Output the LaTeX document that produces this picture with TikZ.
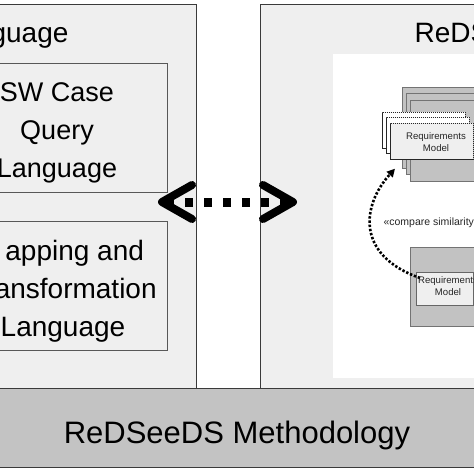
\documentclass[tikz,border=0pt]{standalone}
\usepackage{fontspec}
\setmainfont{Liberation Sans}
\usetikzlibrary{shapes, arrows, arrows.meta}
\definecolor{panelGray}{HTML}{EFEFEF}
\definecolor{barGray}{HTML}{C3C3C3}
\definecolor{modelGray}{HTML}{C2C2C2}
\definecolor{edgeGray}{HTML}{3A3A3A}
\tikzstyle{panel} = [rectangle, draw=edgeGray, line width=1.3pt, fill=panelGray, anchor=north west,
inner sep=0pt]
\tikzstyle{langBox} = [rectangle, draw=edgeGray!85, line width=1pt, fill=panelGray, anchor=north west,
minimum height=129pt, inner sep=0pt]
\tikzstyle{bigText} = [font=\fontsize{27}{38}\selectfont, align=center, text centered]
\tikzstyle{layer} = [rectangle, draw=black!55, line width=0.8pt, fill=modelGray, anchor=north west,
minimum width=100pt, minimum height=81pt, inner sep=0pt]
\tikzstyle{modelCopy} = [rectangle, draw=black!85, dash pattern=on 1.2pt off 0.8pt, line width=0.7pt,
fill=white, anchor=north west, minimum width=83pt, minimum height=36pt, inner sep=0pt]
\tikzstyle{small} = [font=\fontsize{9.6}{12.5}\selectfont, align=center, text=black!85]
\tikzstyle{bigLink} = [line width=9pt, dash pattern=on 8pt off 11pt,
{Straight Barb[length=30pt, width=34pt, line width=8pt, round]}-{Straight Barb[length=30pt, width=34pt, line width=8pt, round]}]
\tikzstyle{simArrow} = [line width=2.6pt, dash pattern=on 2.4pt off 1.8pt, -{Triangle[length=8pt, width=8pt]}]

\begin{document}
\begin{tikzpicture}[x=1pt, y=-1pt]
    \useasboundingbox (0,0) rectangle (474,474);
    \clip (0,0) rectangle (474,474);
    \fill[white] (0,0) rectangle (474,474);

    \node (langPanel) [panel, minimum width=216pt, minimum height=384pt] at (-20,4) {};
    \node (toolPanel) [panel, minimum width=240pt, minimum height=384pt] at (260,4) {};
    \node (langTitle) [font=\fontsize{28}{34}\selectfont, anchor=base east] at (72,42) {guage};
    \node (toolTitle) [font=\fontsize{28}{34}\selectfont, anchor=base west] at (411,42) {ReDS};
    \node (queryBox) [langBox, minimum width=220pt] at (-53,63) {};
    \node (queryText) [bigText] at (57,133) {SW Case\\Query\\Language};
    \node (mapBox) [langBox, minimum width=210pt] at (-43,221) {};
    \node (mapText) [bigText, font=\fontsize{28}{38}\selectfont] at (63,291)
    {\phantom{M}apping and\\\phantom{Tr}ansformation\\Language};
    \node (canvas) [rectangle, fill=white, anchor=north west, minimum width=160pt, minimum height=324pt,
    inner sep=0pt] at (333,54) {};

    \node (layerA) [layer] at (402,87) {};
    \node (layerB) [layer] at (406,93) {};
    \node (layerC) [layer] at (410,100) {};
    \node (copyA) [modelCopy] at (382,112) {};
    \node (copyB) [modelCopy] at (386,117) {};
    \node (tModel) [modelCopy, fill=panelGray] at (390,123) {};
    \node (tLabel) [small] at (436,142) {Requirements\\Model};
    \node (compare) [font=\fontsize{10.5}{12}\selectfont, anchor=west, text=black!85] at (380,223)
    {«compare similarity»};
    \node (bLayer) [layer, minimum width=80pt, minimum height=79pt] at (410,247) {};
    \node (bModel) [rectangle, draw=black!60, line width=0.8pt, fill=panelGray, anchor=north west,
    minimum width=57pt, minimum height=33pt, inner sep=0pt] at (416,272) {};
    \node (bLabel) [small] at (448,286) {Requirements\\Model};

    \node (methodBar) [rectangle, draw=edgeGray, line width=1.3pt, fill=barGray, anchor=north west,
    minimum width=480pt, minimum height=79pt, inner sep=0pt] at (-3,388) {};
    \node (methodText) [font=\fontsize{31}{36}\selectfont, anchor=base] at (237,443) {ReDSeeDS Methodology};

    \coordinate (linkL) at (158,202);
    \coordinate (linkR) at (297,202);
    \draw[bigLink] (linkL) -- (linkR);
    \draw[simArrow] ([shift={(4pt,-6pt)}]bModel.north west) .. controls (355,255) and (362,205)
    .. ([shift={(5pt,-9pt)}]tModel.south west);

\end{tikzpicture}
\end{document}
